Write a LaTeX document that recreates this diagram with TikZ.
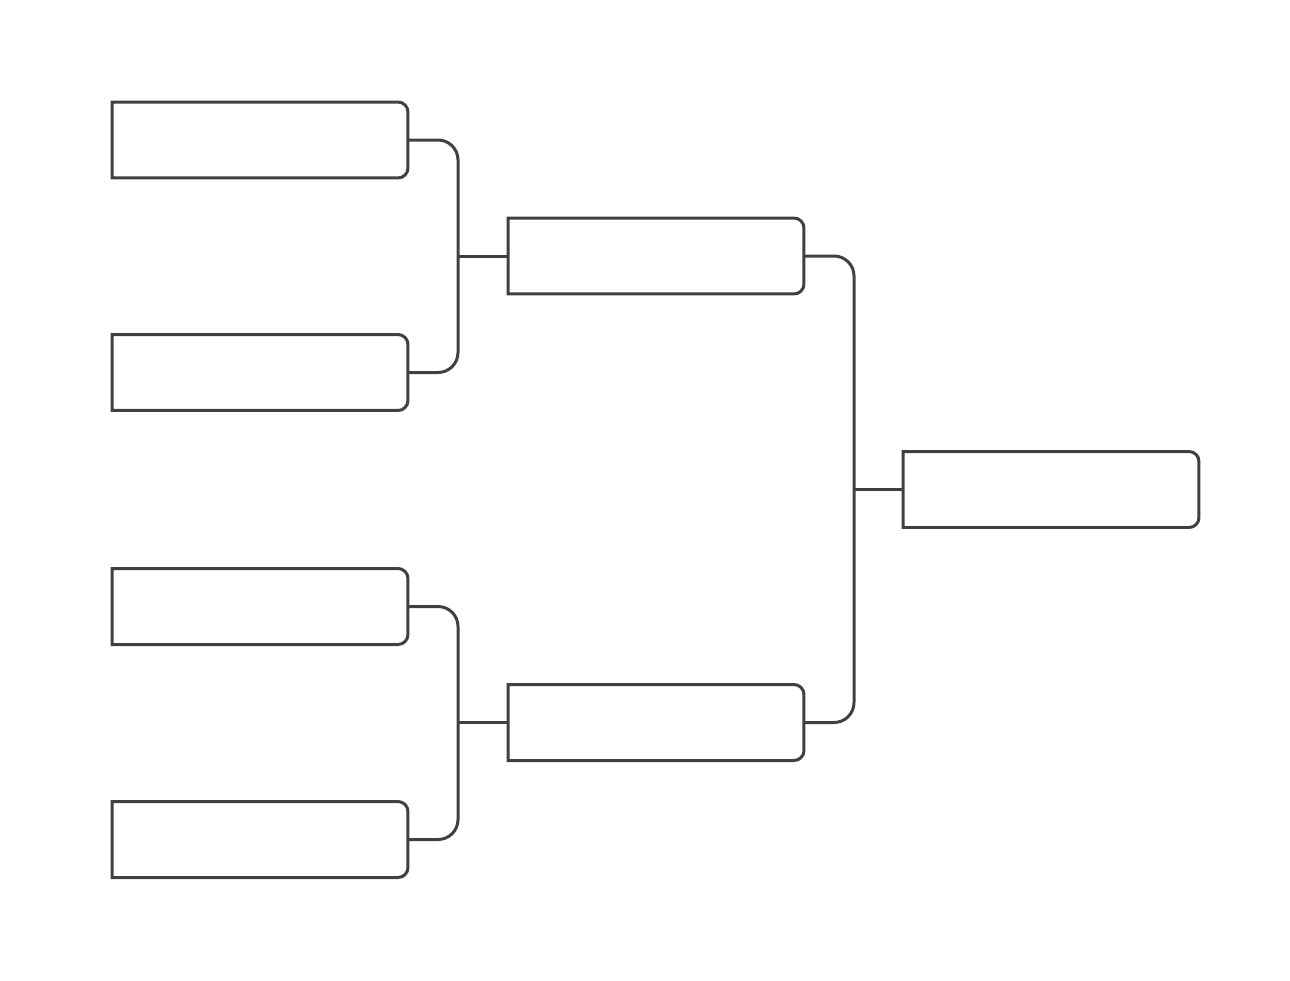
\documentclass[tikz,border=0pt]{standalone}
\definecolor{ink}{HTML}{404040}
\tikzset{
  box/.style={minimum width=5.92cm,minimum height=1.52cm,inner sep=0,outer sep=0},
  outline/.style={draw=ink,line width=0.06cm},
  conn/.style={draw=ink,line width=0.06cm,rounded corners=0.4cm},
}
\newcommand{\drawbox}[1]{\draw[outline] (#1.south west) -- (#1.north west) [rounded corners=0.2cm] -- (#1.north east) -- (#1.south east) [sharp corners] -- (#1.south west) -- cycle;}
\begin{document}
\begin{tikzpicture}[x=0.02cm,y=-0.02cm]
\useasboundingbox (0,0) rectangle (1290,980);
\node[box] (a1) at (260,140) {};
\node[box] (a2) at (260,372.5) {};
\node[box] (a3) at (260,606.5) {};
\node[box] (a4) at (260,839.5) {};
\node[box] (b1) at (656,256) {};
\node[box] (b2) at (656,722.5) {};
\node[box] (c) at (1051,489.5) {};
\foreach \n in {a1,a2,a3,a4,b1,b2,c}{\drawbox{\n}}
\coordinate (j1) at (458,256);
\coordinate (j2) at (458,722.5);
\coordinate (j3) at (854,489.5);
\draw[conn] (a1.east) -| (j1) |- (a2.east);
\draw[conn] (a3.east) -| (j2) |- (a4.east);
\draw[conn] (b1.east) -| (j3) |- (b2.east);
\draw[outline] (j1) -- (b1.west);
\draw[outline] (j2) -- (b2.west);
\draw[outline] (j3) -- (c.west);
\end{tikzpicture}
\end{document}
